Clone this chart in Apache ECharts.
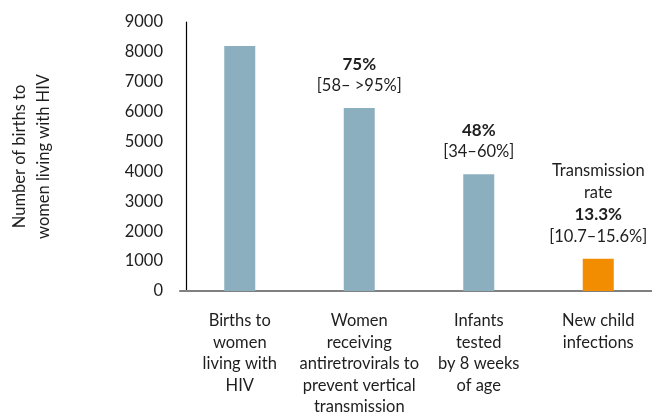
<!DOCTYPE html>
<html>
<head>
<meta charset="utf-8">
<script src="https://cdn.jsdelivr.net/npm/echarts@6/dist/echarts.min.js"></script>
<style>
  html, body { margin: 0; padding: 0; background: #fff; }
  #chart { width: 652px; height: 415px; }
</style>
</head>
<body>
<div id="chart"></div>
<script>
var categories = [
  "Births to\nwomen\nliving with\nHIV",
  "Women\nreceiving\nantiretrovirals to\nprevent vertical\ntransmission",
  "Infants\ntested\nby 8 weeks\nof age",
  "New child\ninfections"
];
var values = [8200, 6120, 3910, 1075];
var barColors = ["#8cafbf", "#8cafbf", "#8cafbf", "#f28c00"];
var preLabels = ["", "", "", "Transmission\nrate"];
var pctLabels = ["", "75%", "48%", "13.3%"];
var rangeLabels = ["", "[58– >95%]", "[34–60%]", "[10.7–15.6%]"];
var yTicks = [0, 1000, 2000, 3000, 4000, 5000, 6000, 7000, 8000, 9000];
var yTitle = "Number of births to\nwomen living with HIV";

var FONT = "Lato, 'Noto Sans', sans-serif";
var TXT = "#1e1e1e";

function buildLabel(i) {
  if (!pctLabels[i]) return "";
  var parts = [];
  if (preLabels[i]) {
    preLabels[i].split("\n").forEach(function (l) { parts.push("{n|" + l + "}"); });
  }
  parts.push("{b|" + pctLabels[i] + "}");
  parts.push("{n|" + rangeLabels[i] + "}");
  return parts.join("\n");
}

var chart = echarts.init(document.getElementById("chart"), null, { renderer: "canvas" });
chart.setOption({
  animation: false,
  textStyle: { fontFamily: FONT },
  grid: { left: 180, right: -6, top: 22, bottom: 124, containLabel: false, outerBoundsMode: "none" },
  xAxis: {
    type: "category",
    data: categories,
    axisLine: { show: true, lineStyle: { color: "#808080", width: 2 } },
    axisTick: { show: false },
    axisLabel: {
      interval: 0,
      margin: 19,
      color: TXT,
      fontFamily: FONT,
      fontSize: 16.5,
      lineHeight: 21.5,
      align: "center"
    }
  },
  yAxis: {
    type: "value",
    min: yTicks[0],
    max: yTicks[yTicks.length - 1],
    interval: 1000,
    offset: -6,
    name: yTitle,
    nameLocation: "middle",
    nameRotate: 90,
    nameGap: 130,
    nameTextStyle: { color: TXT, fontFamily: FONT, fontSize: 16.5, lineHeight: 24, align: "center" },
    axisLine: { show: true, lineStyle: { color: "#000000", width: 1.2 } },
    axisTick: { show: false },
    splitLine: { show: false },
    axisLabel: {
      margin: 23, color: TXT, fontFamily: FONT, fontSize: 16.5,
      formatter: function (v) { return String(v); }
    }
  },
  series: [{
    type: "bar",
    barWidth: 31,
    data: values.map(function (v, i) {
      return {
        value: v,
        itemStyle: { color: barColors[i] },
        label: {
          show: !!pctLabels[i],
          position: "top",
          distance: 11,
          formatter: buildLabel(i),
          align: "center",
          rich: {
            n: { fontFamily: FONT, fontSize: 16.5, color: TXT, lineHeight: 22 },
            b: { fontFamily: FONT, fontSize: 17, fontWeight: "bold", color: TXT, lineHeight: 22 }
          }
        }
      };
    })
  }]
});
</script>
</body>
</html>
